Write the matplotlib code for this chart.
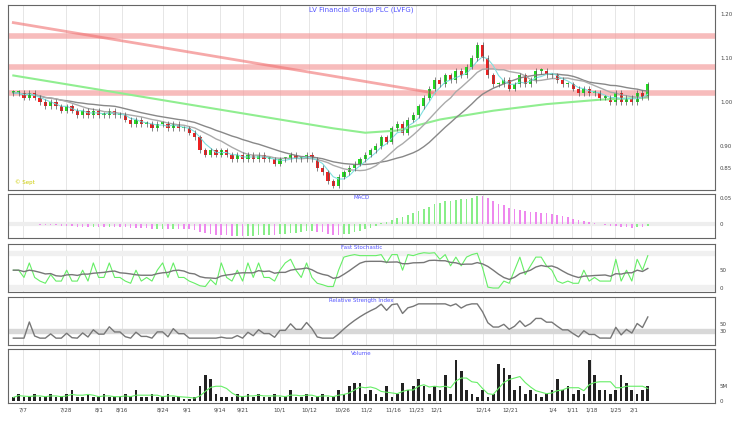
import matplotlib.pyplot as plt
import numpy as np
import pandas as pd

closes = [1.02, 1.02, 1.01, 1.02, 1.01, 1.00, 0.99, 1.00, 0.99, 0.98, 0.99,
          0.98, 0.97, 0.98, 0.97, 0.98, 0.97, 0.97, 0.98, 0.97, 0.97, 0.96, 0.95, 0.96, 0.95, 0.95,
          0.94, 0.95, 0.95, 0.94, 0.95, 0.94, 0.94, 0.93, 0.92, 0.89, 0.88, 0.89, 0.88, 0.89, 0.88,
          0.87, 0.88, 0.87, 0.88, 0.87, 0.88, 0.87, 0.87, 0.86, 0.87, 0.87, 0.88, 0.87, 0.87, 0.88,
          0.87, 0.85, 0.84, 0.82, 0.81, 0.83, 0.84, 0.85, 0.86, 0.87, 0.88,
          0.89, 0.90, 0.92, 0.91, 0.94, 0.95, 0.93, 0.96, 0.97, 0.99, 1.01, 1.03, 1.05, 1.04,
          1.06, 1.05, 1.07, 1.06, 1.08, 1.10, 1.13, 1.10, 1.06, 1.04,
          1.04, 1.05, 1.03, 1.04, 1.06, 1.04, 1.05, 1.07, 1.07, 1.06, 1.06, 1.05, 1.04, 1.04, 1.03,
          1.02, 1.03, 1.02, 1.02, 1.01, 1.01, 1.00, 1.02, 1.00, 1.01, 1.00, 1.02, 1.01, 1.04]
volume = [1, 2, 1, 1, 2, 1, 1, 2, 1, 1, 2, 3, 1, 1, 2, 1, 1, 2, 1, 1,
          1, 2, 1, 3, 1, 1, 2, 1, 1, 2, 1, 1, 0.5, 0.5, 1, 4, 7, 6, 2, 1,
          1, 1, 2, 1, 2, 1, 2, 1, 1, 2, 1, 1, 3, 1, 1, 2, 1, 1, 2, 1,
          1, 3, 2, 4, 5, 5, 2, 3, 2, 1, 4, 1, 2, 5, 3, 4, 6, 4, 2, 4,
          3, 7, 2, 11, 8, 3, 2, 1, 3, 1, 2, 10, 9, 7, 3, 4, 2, 3, 2, 1,
          2, 3, 6, 3, 4, 2, 3, 2, 11, 7, 3, 3, 2, 3, 7, 5, 3, 2, 3, 4]
date_labels = ["7/7", "7/28", "8/1", "8/16", "8/24", "9/1", "9/14", "9/21", "10/1", "10/12",
               "10/26", "11/2", "11/16", "11/23", "12/1", "12/14", "12/21", "1/4", "1/11", "1/18",
               "1/25", "2/1"]
date_pos = [1.9, 9.8, 16, 20.4, 28.1, 32.6, 38.8, 43, 50, 55.5, 61.7, 66.2, 71.3, 75.6,
            79.3, 88.1, 93.2, 101.2, 104.8, 108.4, 112.9, 116.4]
red_line_pts = [1.18, 1.02]
green_knots_x = [0, 10, 20, 30, 40, 50, 60, 66, 72, 80, 90, 100, 110, 119]
green_knots_y = [1.06, 1.04, 1.02, 1.00, 0.98, 0.96, 0.94, 0.93, 0.935, 0.96, 0.98, 0.995, 1.005, 1.01]
bands = [1.15, 1.08, 1.02]

n = len(closes)
c = pd.Series(closes)
opens = c.shift(1).fillna(c.iloc[0])
x = np.arange(n)

W, H = 750, 422
fig = plt.figure(figsize=(7.5, 4.22), dpi=100)
L, R = 8 / W, 715 / W

def ax_px(top, bot):
    a = fig.add_axes([L, 1 - bot / H, R - L, (bot - top) / H])
    a.set_xlim(-1, 131.6)
    a.yaxis.tick_right()
    a.tick_params(labelsize=4, length=0, colors='#444444')
    a.set_xticks([])
    for s in a.spines.values():
        s.set_color('#666666')
    for p in date_pos:
        a.axvline(p, color='#e6e6e6', lw=0.7, zorder=0)
    return a

ax = ax_px(5, 190)
for lv in bands:
    ax.axhline(lv, color='#f4a0a0', lw=4, alpha=0.7, zorder=1)
ax.plot([0, 79], red_line_pts, color='#f07070', lw=2, alpha=0.6)
ax.plot(green_knots_x, green_knots_y, color='#90ee90', lw=1.5)
ax.plot(x, c.rolling(20, min_periods=1).mean(), color='#888888', lw=1)
ax.plot(x, c.rolling(10, min_periods=1).mean(), color='#aaaaaa', lw=1)
ax.plot(x, c.rolling(4, min_periods=1).mean(), color='#7fdfdf', lw=0.8)
for i in range(n):
    o, cl = opens[i], closes[i]
    col = '#22dd22' if cl >= o else '#ee2222'
    lo, hi = min(o, cl), max(o, cl)
    ax.vlines(i, lo - 0.006, hi + 0.006, color='#555555', lw=0.5)
    ax.bar(i, max(hi - lo, 0.004), bottom=lo, width=0.6, color=col)
ax.set_ylim(0.80, 1.22)
ax.set_yticks([0.85, 0.90, 1.00, 1.10, 1.20])
ax.text(0.5, 0.99, "LV Financial Group PLC (LVFG)", transform=ax.transAxes,
        ha='center', va='top', fontsize=5, color='#5555ff')
ax.text(0.01, 0.03, "© Sept", transform=ax.transAxes, fontsize=4, color='#cccc00')

ema12 = c.ewm(span=12).mean()
ema26 = c.ewm(span=26).mean()
macd = ema12 - ema26
ax2 = ax_px(194, 238)
ax2.axhline(0, color='#eeeeee', lw=3, zorder=0)
ax2.bar(x, macd, width=0.3, color=np.where(macd.diff().fillna(0) >= 0, '#88ee88', '#ee88ee'))
ax2.set_yticks([0, 0.05])
ax2.set_yticklabels(["0", "0.05"])
ax2.text(0.5, 0.97, "MACD", transform=ax2.transAxes, ha='center', va='top', fontsize=4, color='#5555ff')

lo5 = c.rolling(5, min_periods=1).min() - 0.01
hi5 = c.rolling(5, min_periods=1).max() + 0.01
k = 100 * (c - lo5) / (hi5 - lo5)
ax3 = ax_px(244, 292)
ax3.axhspan(85, 95, color='#f0f0f0', zorder=0)
ax3.axhspan(5, 15, color='#f0f0f0', zorder=0)
ax3.plot(x, k, color='#66ee66', lw=0.8)
ax3.plot(x, k.rolling(5, min_periods=1).mean() * 0.6 + 20, color='#777777', lw=1)
ax3.set_ylim(0, 110)
ax3.set_yticks([10, 50])
ax3.set_yticklabels(["0", "50"])
ax3.text(0.5, 0.97, "Fast Stochastic", transform=ax3.transAxes, ha='center', va='top', fontsize=4, color='#5555ff')

d = c.diff().fillna(0)
up = d.clip(lower=0).ewm(span=14).mean()
dn = (-d.clip(upper=0)).ewm(span=14).mean()
rsi = 100 - 100 / (1 + up / (dn + 1e-9))
ax4 = ax_px(297, 345)
ax4.axhspan(38, 44, color='#d8d8d8', zorder=0)
ax4.plot(x, rsi.clip(30, 80), color='#777777', lw=1)
ax4.set_ylim(20, 90)
ax4.set_yticks([41, 50])
ax4.set_yticklabels(["30", "50"])
ax4.text(0.5, 0.97, "Relative Strength Index", transform=ax4.transAxes, ha='center', va='top', fontsize=4, color='#5555ff')

v = pd.Series(volume)
ax5 = ax_px(349, 403)
ax5.bar(x, v, width=0.5, color='#222222')
ax5.plot(x, v.rolling(5, min_periods=1).mean(), color='#66ee66', lw=0.8)
ax5.set_ylim(-0.5, 14)
ax5.set_yticks([0, 4])
ax5.set_yticklabels(["0", "5M"])
ax5.text(0.5, 0.97, "Volume", transform=ax5.transAxes, ha='center', va='top', fontsize=4, color='#5555ff')
ax5.set_xticks(date_pos)
ax5.set_xticklabels(date_labels, fontsize=4)

fig.savefig("out.png", dpi=100, facecolor='white')
